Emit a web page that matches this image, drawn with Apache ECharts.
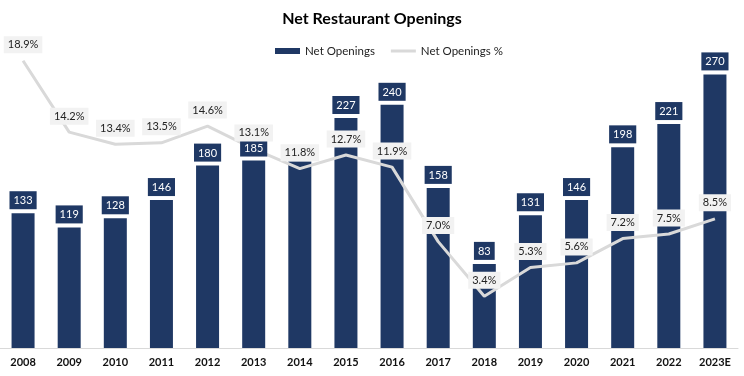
<!DOCTYPE html>
<html>
<head>
<meta charset="utf-8">
<script src="https://cdn.jsdelivr.net/npm/echarts@6/dist/echarts.min.js"></script>
<style>
  html, body { margin: 0; padding: 0; background: #fff; }
  #chart { width: 744px; height: 376px; }
</style>
</head>
<body>
<div id="chart"></div>
<script>
// categories and values
var years = ['2008', '2009', '2010', '2011', '2012', '2013', '2014', '2015',
             '2016', '2017', '2018', '2019', '2020', '2021', '2022', '2023E'];
var netOpenings = [133, 119, 128, 146, 180, 185, 184, 227, 240, 158, 83, 131, 146, 198, 221, 270];
var netOpeningsPct = [18.9, 14.2, 13.4, 13.5, 14.6, 13.1, 11.8, 12.7, 11.9, 7.0, 3.4, 5.3, 5.6, 7.2, 7.5, 8.5];
// the 2014 value label is hidden in the original (covered by 11.8%)
var hiddenBarLabels = ['2014'];

var font = 'Lato, "Open Sans", sans-serif';
var navy = '#1f3864';
var grey = '#d9d9d9';
var clear = 'rgba(0,0,0,0)';

// thin line icon for the legend (tiny slivers keep the bbox 6px tall)
var lineIcon = 'path://M0,0L25,0L25,0.01Z M0,1.5L25,1.5L25,4.5L0,4.5Z M0,6L25,6L25,5.99Z';

var chart = echarts.init(document.getElementById('chart'));

// bar labels go on a transparent copy so they sit above the line
var barLabelData = netOpenings.map(function(v, i) {
    if (hiddenBarLabels.indexOf(years[i]) >= 0) {
        return { value: v, label: { show: false } };
    }
    return v;
});

var option = {
    animation: false,
    textStyle: { fontFamily: font },
    title: {
        text: 'Net Restaurant Openings',
        left: 'center',
        top: 6,
        textStyle: { fontFamily: font, fontSize: 16, fontWeight: 'bold', color: '#000' }
    },
    legend: {
        top: 40,
        left: 270,
        itemGap: 16,
        itemWidth: 25,
        itemHeight: 6,
        textStyle: { fontFamily: font, fontSize: 11.5, color: '#222' },
        data: [
            { name: 'Net Openings', icon: 'rect' },
            { name: 'Net Openings %', icon: lineIcon }
        ]
    },
    grid: {
        left: 0,
        right: 6,
        top: 44,
        bottom: 28
    },
    xAxis: {
        type: 'category',
        data: years,
        axisLine: { lineStyle: { color: grey, width: 1 } },
        axisTick: { show: false },
        axisLabel: {
            fontFamily: font,
            fontSize: 11,
            fontWeight: 'bold',
            color: '#111',
            margin: 9,
            interval: 0
        }
    },
    yAxis: [
        { type: 'value', min: 0, max: 300, show: false, splitLine: { show: false } },
        { type: 'value', min: 0, max: 20, show: false, splitLine: { show: false } }
    ],
    series: [
        {
            name: 'Net Openings',
            type: 'bar',
            data: netOpenings,
            barWidth: 23,
            z: 2,
            itemStyle: { color: navy }
        },
        {
            name: 'Net Openings %',
            type: 'line',
            yAxisIndex: 1,
            data: netOpeningsPct,
            symbol: 'none',
            z: 3,
            lineStyle: { color: grey, width: 3 },
            itemStyle: { color: grey }
        },
        {
            name: 'bar labels',
            type: 'bar',
            data: barLabelData,
            barWidth: 23,
            barGap: '-100%',
            z: 4,
            silent: true,
            itemStyle: { color: clear },
            label: {
                show: true,
                position: 'top',
                distance: 4,
                backgroundColor: navy,
                color: '#fff',
                fontFamily: font,
                fontSize: 11,
                padding: [4, 4, 3, 4]
            }
        },
        {
            name: 'pct labels',
            type: 'line',
            yAxisIndex: 1,
            data: netOpeningsPct,
            symbol: 'circle',
            symbolSize: 1,
            showSymbol: true,
            z: 5,
            silent: true,
            lineStyle: { color: clear, width: 0 },
            itemStyle: { color: clear },
            label: {
                show: true,
                position: 'top',
                distance: 7,
                backgroundColor: '#f2f2f2',
                color: '#222',
                fontFamily: font,
                fontSize: 11,
                padding: [3, 4, 3, 4],
                formatter: function(p) {
                    return p.value.toFixed(1) + '%';
                }
            }
        }
    ]
};

chart.setOption(option);
</script>
</body>
</html>
